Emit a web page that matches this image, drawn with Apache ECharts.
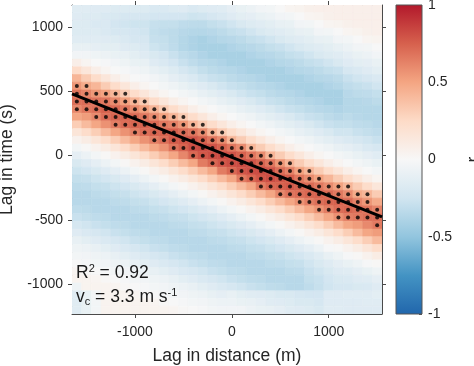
<!DOCTYPE html>
<html><head><meta charset="utf-8">
<script src="https://cdn.jsdelivr.net/npm/echarts@6/dist/echarts.min.js"></script>
<style>html,body{margin:0;padding:0;background:#fff}#c{width:474px;height:366px}</style>
</head><body><div id="c"></div>
<script>
// ---- data ----
const lagDistance = [-1600,-1500,-1400,-1300,-1200,-1100,-1000,-900,-800,-700,-600,-500,-400,-300,-200,-100,0,100,200,300,400,500,600,700,800,900,1000,1100,1200,1300,1400,1500];
const lagTime = [1140,1080,1020,960,900,840,780,720,660,600,540,480,420,360,300,240,180,120,60,0,-60,-120,-180,-240,-300,-360,-420,-480,-540,-600,-660,-720,-780,-840,-900,-960,-1020,-1080,-1140,-1200];
// correlation r x 100, one row per lagTime (top to bottom), one column per lagDistance
const rX100 = [
[-15,-15,-16,-16,-17,-17,-17,-17,-19,-19,-17,-16,-19,-17,-16,-15,-12,-9,-7,-4,-3,0,3,4,6,7,7,7,7,7,7,7],
[-16,-17,-17,-19,-20,-22,-22,-22,-23,-23,-23,-23,-26,-25,-22,-19,-16,-13,-12,-9,-7,-4,-3,0,3,4,6,7,7,7,7,7],
[-17,-17,-19,-19,-23,-25,-26,-26,-29,-30,-30,-32,-33,-33,-30,-28,-25,-20,-17,-15,-13,-10,-9,-4,-3,0,3,4,6,7,7,7],
[-17,-17,-17,-19,-22,-22,-23,-25,-30,-32,-33,-35,-36,-36,-35,-33,-30,-28,-25,-20,-17,-15,-13,-10,-9,-4,-3,0,3,4,6,7],
[-15,-15,-15,-16,-17,-19,-22,-22,-29,-30,-33,-36,-39,-41,-38,-36,-35,-33,-30,-28,-25,-20,-17,-15,-13,-10,-9,-4,-3,0,3,4],
[-10,-10,-12,-13,-13,-16,-17,-19,-26,-29,-32,-36,-39,-41,-41,-41,-38,-36,-35,-33,-30,-28,-25,-20,-17,-15,-13,-10,-7,-4,-3,0],
[-4,-4,-6,-7,-9,-10,-13,-16,-20,-23,-28,-32,-35,-38,-41,-41,-41,-41,-38,-36,-35,-33,-30,-28,-25,-20,-17,-15,-12,-9,-7,-4],
[8,3,0,-1,-4,-6,-9,-10,-16,-19,-23,-28,-32,-35,-36,-38,-41,-41,-41,-41,-38,-36,-35,-33,-30,-28,-25,-20,-16,-13,-12,-9],
[23,15,8,3,0,-1,-4,-6,-10,-13,-17,-22,-26,-30,-33,-35,-36,-38,-41,-41,-41,-41,-38,-36,-35,-33,-30,-28,-22,-19,-16,-13],
[42,32,23,15,8,3,0,-1,-4,-7,-12,-15,-19,-25,-28,-30,-33,-35,-36,-38,-41,-41,-41,-41,-38,-36,-35,-33,-28,-25,-22,-19],
[55,47,42,32,23,15,8,3,0,-3,-6,-9,-13,-16,-20,-25,-28,-30,-33,-35,-36,-38,-41,-41,-41,-41,-38,-36,-32,-30,-28,-25],
[67,62,55,51,42,32,23,15,8,3,0,-3,-6,-10,-13,-16,-20,-25,-28,-30,-33,-35,-36,-38,-41,-41,-41,-41,-35,-33,-32,-30],
[69,70,67,66,59,51,42,32,23,15,8,3,0,-3,-6,-10,-13,-16,-20,-25,-28,-30,-33,-35,-36,-38,-41,-41,-36,-36,-35,-33],
[60,66,69,74,71,66,59,51,42,32,23,15,8,3,0,-3,-6,-10,-13,-16,-20,-25,-28,-30,-33,-35,-36,-38,-36,-36,-36,-36],
[49,53,60,70,73,74,71,66,59,51,42,32,23,15,8,3,0,-3,-6,-10,-13,-16,-20,-25,-28,-30,-33,-35,-33,-35,-36,-36],
[31,40,49,57,64,70,73,74,71,66,63,55,42,32,23,15,8,3,0,-3,-6,-10,-13,-16,-20,-25,-28,-30,-30,-32,-33,-35],
[16,23,31,40,49,57,64,70,73,74,75,70,67,59,42,32,23,15,8,3,0,-3,-6,-10,-13,-16,-20,-25,-25,-28,-30,-32],
[5,10,16,23,31,40,49,57,64,70,77,78,79,74,67,59,42,32,23,15,8,3,0,-3,-6,-10,-13,-16,-19,-22,-25,-28],
[-3,1,5,10,16,23,31,40,49,57,68,74,81,82,79,74,67,59,42,32,23,15,8,3,0,-3,-6,-10,-12,-15,-19,-22],
[-12,-7,-3,1,5,10,16,23,31,40,49,61,72,78,81,82,79,74,67,59,42,32,23,15,8,3,0,-3,-6,-9,-12,-15],
[-20,-16,-12,-7,-3,1,5,10,16,23,31,40,49,65,72,78,81,82,79,74,67,55,42,32,23,15,8,3,0,-3,-6,-9],
[-26,-23,-20,-16,-12,-7,-3,1,5,10,16,23,31,40,49,65,72,78,81,82,79,70,63,51,42,32,23,15,8,3,0,-3],
[-30,-29,-26,-23,-20,-16,-12,-7,-3,1,5,10,16,23,31,40,49,65,72,78,81,78,75,66,59,51,42,32,23,15,8,3],
[-33,-32,-30,-29,-26,-23,-20,-16,-12,-7,-3,1,5,10,16,23,31,40,49,65,72,74,77,74,71,66,59,51,42,32,23,15],
[-35,-35,-33,-32,-30,-29,-26,-23,-20,-16,-12,-7,-3,1,5,10,16,23,31,40,49,61,68,70,73,74,71,66,59,47,42,32],
[-35,-35,-35,-35,-33,-32,-30,-29,-26,-23,-20,-16,-12,-7,-3,1,5,10,16,23,31,40,49,57,64,70,73,74,71,62,55,47],
[-32,-33,-35,-35,-35,-35,-33,-32,-30,-29,-26,-23,-20,-16,-12,-7,-3,1,5,10,16,23,31,40,49,57,64,70,73,70,67,62],
[-28,-30,-32,-33,-35,-35,-35,-35,-33,-32,-30,-29,-26,-23,-20,-16,-12,-7,-3,1,5,10,16,23,31,40,49,57,64,66,69,70],
[-22,-25,-28,-30,-32,-33,-35,-35,-35,-35,-33,-32,-30,-29,-26,-23,-20,-16,-12,-7,-3,1,5,10,16,23,31,40,49,53,60,66],
[-16,-19,-22,-25,-28,-30,-32,-33,-35,-35,-35,-35,-33,-32,-30,-29,-26,-23,-20,-16,-12,-7,-3,1,5,10,16,23,31,40,49,53],
[-10,-13,-16,-19,-22,-25,-28,-30,-32,-33,-35,-35,-35,-35,-33,-32,-30,-29,-26,-23,-20,-16,-12,-7,-3,1,5,10,16,23,31,40],
[-6,-7,-10,-13,-16,-19,-22,-25,-28,-30,-32,-33,-35,-35,-35,-35,-33,-32,-30,-29,-26,-23,-20,-16,-12,-7,-1,1,5,10,16,23],
[-3,-4,-6,-7,-10,-13,-16,-19,-22,-25,-28,-30,-32,-33,-35,-35,-35,-35,-33,-32,-30,-29,-26,-23,-19,-15,-10,-6,-1,1,5,10],
[0,-1,-3,-4,-6,-7,-10,-13,-16,-19,-22,-25,-28,-30,-32,-33,-35,-35,-35,-35,-33,-32,-30,-29,-25,-20,-16,-12,-9,-6,-1,1],
[3,1,0,-1,-3,-4,-6,-7,-10,-13,-16,-19,-22,-25,-28,-30,-32,-33,-35,-35,-35,-35,-33,-32,-28,-25,-20,-16,-15,-12,-9,-6],
[4,4,3,1,0,-1,-3,-4,-6,-7,-10,-13,-16,-19,-22,-25,-28,-30,-32,-33,-35,-35,-35,-35,-30,-28,-23,-20,-19,-16,-15,-12],
[-6,4,4,4,3,1,0,-1,-3,-4,-6,-7,-10,-13,-16,-19,-22,-25,-28,-30,-32,-33,-35,-35,-32,-29,-25,-22,-22,-20,-19,-16],
[-15,-9,-3,4,4,4,3,1,0,-1,-3,-4,-6,-7,-10,-12,-10,-13,-15,-16,-17,-20,-20,-22,-23,-23,-16,-16,-15,-15,-15,-13],
[-15,-9,-3,4,4,4,4,4,3,1,0,-1,-3,-4,-6,-7,-7,-9,-10,-12,-15,-16,-17,-20,-20,-22,-16,-16,-16,-16,-15,-15],
[-15,-9,-3,4,4,4,4,4,4,4,3,1,0,-1,-3,-4,-4,-4,-7,-9,-10,-12,-15,-16,-17,-20,-15,-15,-16,-16,-16,-16]
];
// significant cells: [lag time, lag distances marked with a dot]
const sigCells = [
[540, [-1600,-1500]],
[480, [-1600,-1500,-1400,-1300,-1200,-1100]],
[420, [-1600,-1500,-1400,-1300,-1200,-1100,-1000,-900]],
[360, [-1600,-1500,-1400,-1300,-1200,-1100,-1000,-900,-800,-700]],
[300, [-1400,-1300,-1200,-1100,-1000,-900,-800,-700,-600,-500]],
[240, [-1200,-1100,-1000,-900,-800,-700,-600,-500,-400,-300]],
[180, [-1000,-900,-800,-700,-600,-500,-400,-300,-200,-100]],
[120, [-800,-700,-600,-500,-400,-300,-200,-100,0]],
[60, [-600,-500,-400,-300,-200,-100,0,100,200]],
[0, [-400,-300,-200,-100,0,100,200,300,400]],
[-60, [-200,-100,0,100,200,300,400,500,600]],
[-120, [0,100,200,300,400,500,600,700,800]],
[-180, [100,200,300,400,500,600,700,800,900]],
[-240, [300,400,500,600,700,800,900,1000,1100,1200]],
[-300, [500,600,700,800,900,1000,1100,1200,1300,1400]],
[-360, [700,800,900,1000,1100,1200,1300,1400]],
[-420, [900,1000,1100,1200,1300,1400,1500]],
[-480, [1100,1200,1300,1400,1500]],
[-540, [1500]]
];
const fitLine = [[-1650, 480], [1550, -475]];
const xTicks = [-1000, 0, 1000];
const yTicks = [-1000, -500, 0, 500, 1000];
const cbTicks = [-1, -0.5, 0, 0.5, 1];
const xRange = [-1650, 1550];
const yRange = [-1230, 1170];
const annot1 = ['R', '2', ' = 0.92'];
const annot2 = ['v', 'c', ' = 3.3 m s', '-1'];

// ---- build ----
const rdbu = ['#2166ac','#4393c3','#92c5de','#d1e5f0','#f7f7f7','#fddbc7','#f4a582','#d6604d','#b2182b'];
const heat = [];
lagTime.forEach((t, i) => lagDistance.forEach((d, j) => heat.push([d, t, rX100[i][j] / 100])));
const dots = [];
sigCells.forEach(([t, ds]) => ds.forEach(d => dots.push([d, t])));
const halfW = (lagDistance[1] - lagDistance[0]) / 2;
const halfH = (lagTime[0] - lagTime[1]) / 2;

const FONT = 'Liberation Sans, Arial, Helvetica, sans-serif';
const AX = '#4a4a4a', TX = '#262626';
const G = {left: 72, top: 5, width: 310, height: 309};
const CB = {left: 396, top: 5, width: 26, height: 309};
const fmt = v => String(v);

function valAxis(extra) {
  return Object.assign({
    type: 'value', gridIndex: 0, splitLine: {show: false},
    axisLine: {show: true, onZero: false, lineStyle: {color: AX, width: 1}},
    axisTick: {show: true, inside: false, length: 4, lineStyle: {color: AX}},
    axisLabel: {show: false}
  }, extra);
}

const chart = echarts.init(document.getElementById('c'), null, {renderer: 'canvas'});
chart.setOption({
  animation: false,
  backgroundColor: '#fff',
  textStyle: {fontFamily: FONT},
  grid: [
    Object.assign({containLabel: false, outerBoundsMode: 'none'}, G),
    Object.assign({containLabel: false, outerBoundsMode: 'none'}, CB)
  ],
  xAxis: [
    valAxis({min: xRange[0], max: xRange[1], position: 'bottom',
      axisTick: {show: true, length: 4, lineStyle: {color: AX}, customValues: xTicks},
      axisLabel: {show: true, customValues: xTicks, formatter: fmt, fontSize: 14, color: TX, margin: 11, fontFamily: FONT},
      name: 'Lag in distance (m)', nameLocation: 'middle', nameGap: 33,
      nameTextStyle: {fontSize: 17.5, color: TX, fontFamily: FONT}}),
    valAxis({min: xRange[0], max: xRange[1], position: 'top',
      axisTick: {show: true, length: 4, lineStyle: {color: AX}, customValues: xTicks}}),
    {type: 'category', gridIndex: 1, data: ['r'], show: false}
  ],
  yAxis: [
    valAxis({min: yRange[0], max: yRange[1], position: 'left',
      axisTick: {show: true, length: 4, lineStyle: {color: AX}, customValues: yTicks},
      axisLabel: {show: true, customValues: yTicks, formatter: fmt, fontSize: 14, color: TX, margin: 9, fontFamily: FONT},
      name: 'Lag in time (s)', nameLocation: 'middle', nameGap: 51, nameRotate: 90,
      nameTextStyle: {fontSize: 17.5, color: TX, fontFamily: FONT}}),
    valAxis({min: yRange[0], max: yRange[1], position: 'right',
      axisTick: {show: true, length: 4, lineStyle: {color: AX}, customValues: yTicks}}),
    {type: 'value', gridIndex: 1, min: cbTicks[0], max: cbTicks[cbTicks.length - 1], interval: 0.5,
      position: 'right', splitLine: {show: false},
      axisLine: {show: false},
      axisTick: {show: true, inside: true, length: 3, lineStyle: {color: '#555'}},
      axisLabel: {show: true, fontSize: 14, color: TX, margin: 6, fontFamily: FONT, formatter: fmt},
      name: 'r', nameLocation: 'middle', nameGap: 43, nameRotate: 90,
      nameTextStyle: {fontSize: 17.5, color: TX, fontFamily: FONT}}
  ],
  visualMap: {type: 'continuous', min: -1, max: 1, dimension: 2, seriesIndex: 0, show: false,
    inRange: {color: rdbu}},
  graphic: [
    {type: 'rect', z: 10, silent: true,
      shape: {x: CB.left, y: CB.top, width: CB.width, height: CB.height},
      style: {stroke: '#555', lineWidth: 1,
        fill: {type: 'linear', x: 0, y: 0, x2: 0, y2: 1,
          colorStops: rdbu.slice().reverse().map((c, k) => ({offset: k / (rdbu.length - 1), color: c}))}}},
    {type: 'text', z: 20, x: 76, y: 263, silent: true,
      style: {text: '{m|' + annot1[0] + '}{sup|' + annot1[1] + '}{m|' + annot1[2] + '}',
        verticalAlign: 'top', align: 'left',
        rich: {m: {fontSize: 17.5, lineHeight: 20, fill: '#1a1a1a', fontFamily: FONT},
               sup: {fontSize: 11, lineHeight: 12, verticalAlign: 'top', fill: '#1a1a1a', fontFamily: FONT}}}},
    {type: 'text', z: 20, x: 76, y: 287, silent: true,
      style: {text: '{m|' + annot2[0] + '}{sub|' + annot2[1] + '}{m|' + annot2[2] + '}{sup|' + annot2[3] + '}',
        verticalAlign: 'top', align: 'left',
        rich: {m: {fontSize: 17.5, lineHeight: 20, fill: '#1a1a1a', fontFamily: FONT},
               sub: {fontSize: 11, lineHeight: 1, verticalAlign: 'bottom', fill: '#1a1a1a', fontFamily: FONT},
               sup: {fontSize: 11, lineHeight: 12, verticalAlign: 'top', fill: '#1a1a1a', fontFamily: FONT}}}}
  ],
  series: [
    {type: 'custom', xAxisIndex: 0, yAxisIndex: 0, data: heat, clip: true, z: 1,
      encode: {x: 0, y: 1},
      renderItem: (params, api) => {
        const d = api.value(0), t = api.value(1);
        const a = api.coord([d - halfW, t + halfH]);
        const b = api.coord([d + halfW, t - halfH]);
        const c = api.visual('color');
        return {type: 'rect', shape: {x: a[0], y: a[1], width: b[0] - a[0], height: b[1] - a[1]},
          style: {fill: c, stroke: c, lineWidth: 0.6}};
      }},
    {type: 'scatter', xAxisIndex: 0, yAxisIndex: 0, data: dots, symbol: 'circle', symbolSize: 4,
      itemStyle: {color: '#000'}, z: 3, silent: true},
    {type: 'line', xAxisIndex: 0, yAxisIndex: 0, data: fitLine, symbol: 'none', z: 4,
      lineStyle: {color: '#000', width: 3}, silent: true}
  ]
});
</script></body></html>
